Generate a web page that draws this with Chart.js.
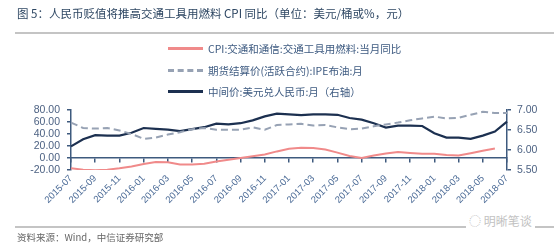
<!DOCTYPE html>
<html>
<head>
<meta charset="utf-8">
<script src="https://cdn.jsdelivr.net/npm/chart.js@4/dist/chart.umd.min.js"></script>
<style>
  html, body { margin: 0; padding: 0; background: #fff; }
  #wrap { position: relative; width: 554px; height: 246px; overflow: hidden; font-family: "Noto Sans CJK SC", "Liberation Sans", sans-serif; }
  #chart { position: absolute; left: 0; top: 0; }
  .title { position: absolute; left: 17px; top: 5px; font-size: 11.5px; color: #2e4763; white-space: nowrap; }
  .rule { position: absolute; left: 15px; right: 0; height: 2px; background: #c4c4c4; }
  .legend { position: absolute; left: 168px; top: 38px; font-size: 10.5px; color: #3d5a80; }
  .legend div { height: 21.5px; display: flex; align-items: center; white-space: nowrap; }
  .legend span.sw { display: inline-block; width: 35px; height: 0; margin-right: 5px; }
  .source { position: absolute; left: 17px; top: 230px; font-size: 9.5px; color: #666; white-space: nowrap; }
  .mark { position: absolute; left: 466px; top: 212px; font-size: 12px; color: #c2c2c2; white-space: nowrap; background: #fff; padding: 0 3px; }
</style>
</head>
<body>
<div id="wrap">
  <canvas id="chart" width="554" height="246"></canvas>
  <div class="title">图 5：人民币贬值将推高交通工具用燃料 CPI 同比（单位：美元/桶或%，元）</div>
  <div class="rule" style="top:32px"></div>
  <div class="legend">
    <div><span class="sw" style="border-top:3px solid #f08a8a"></span>CPI:交通和通信:交通工具用燃料:当月同比</div>
    <div><span class="sw" style="border-top:3px dashed #97a2b4"></span>期货结算价(活跃合约):IPE布油:月</div>
    <div><span class="sw" style="border-top:3px solid #1c3050"></span>中间价:美元兑人民币:月（右轴）</div>
  </div>
  <div class="rule" style="top:226px"></div>
  <div class="mark">◌ 明晰笔谈</div>
  <div class="source">资料来源：Wind，中信证券研究部</div>
</div>
<script>
const months = [
  "2015-07","2015-08","2015-09","2015-10","2015-11","2015-12",
  "2016-01","2016-02","2016-03","2016-04","2016-05","2016-06",
  "2016-07","2016-08","2016-09","2016-10","2016-11","2016-12",
  "2017-01","2017-02","2017-03","2017-04","2017-05","2017-06",
  "2017-07","2017-08","2017-09","2017-10","2017-11","2017-12",
  "2018-01","2018-02","2018-03","2018-04","2018-05","2018-06","2018-07"
];

// CPI 交通工具用燃料 当月同比 (%)
const fuelCpi = [
  -17, -19.5, -20.5, -19.5, -17, -14,
  -10, -6.5, -7, -11, -11, -9.5,
  -6, -3, 0, 3, 6, 11,
  15.5, 17, 16.5, 14, 9, 3.5,
  0, 4, 7.5, 10, 8.5, 7,
  7, 5, 4, 8, 12, 16, null
];

// IPE 布油 (美元/桶)
const brent = [
  59, 50, 49, 50, 46, 40,
  32, 34, 39, 43, 48, 50,
  47, 47, 47, 51, 47, 55,
  56, 57, 54, 55, 51, 48,
  49, 53, 56, 59, 63, 66,
  69, 66, 67, 72, 77, 75, 75
];

// 美元兑人民币中间价 (右轴)
const usdCny = [
  6.09, 6.27, 6.37, 6.36, 6.36, 6.43,
  6.55, 6.53, 6.51, 6.47, 6.52, 6.57,
  6.66, 6.64, 6.67, 6.74, 6.84, 6.91,
  6.89, 6.87, 6.89, 6.89, 6.88, 6.80,
  6.76, 6.67, 6.56, 6.61, 6.61, 6.60,
  6.42, 6.31, 6.31, 6.28, 6.36, 6.46, 6.71
];

const leftTicks = [-20, 0, 20, 40, 60, 80];
const rightTicks = [5.5, 6.0, 6.5, 7.0];

const axisColor = "#3e5a7e";
const labelColor = "#4d6283";
const tickFont = { family: "Liberation Sans", size: 10.5 };

new Chart(document.getElementById("chart"), {
  type: "line",
  data: {
    labels: months,
    datasets: [
      {
        label: "CPI:交通和通信:交通工具用燃料:当月同比",
        data: fuelCpi,
        borderColor: "#f08a8a",
        borderWidth: 2,
        yAxisID: "y",
        pointRadius: 0,
        tension: 0
      },
      {
        label: "期货结算价(活跃合约):IPE布油:月",
        data: brent,
        borderColor: "#97a2b4",
        borderWidth: 2,
        borderDash: [7, 4],
        yAxisID: "y",
        pointRadius: 0,
        tension: 0
      },
      {
        label: "中间价:美元兑人民币:月（右轴）",
        data: usdCny,
        borderColor: "#1c3050",
        borderWidth: 2.2,
        yAxisID: "y1",
        pointRadius: 0,
        tension: 0
      }
    ]
  },
  options: {
    responsive: false,
    animation: false,
    layout: { padding: { top: 110, left: 0, right: 0, bottom: 0 } },
    plugins: { legend: { display: false }, tooltip: { enabled: false } },
    scales: {
      x: {
        position: "bottom",
        grid: { display: false, drawTicks: false },
        border: { display: false },
        ticks: {
          autoSkip: false,
          minRotation: 45,
          maxRotation: 45,
          padding: 3,
          color: "#4a6a96",
          font: { family: "Liberation Sans", size: 9.5 },
          callback: function (v, i) { return i % 2 === 0 ? months[i] : ""; }
        },
        afterFit: function (s) { s.height = 76; }
      },
      x2: {
        type: "category",
        position: { y: 0 },
        ticks: { display: false, autoSkip: false },
        grid: {
          drawOnChartArea: false,
          drawTicks: true,
          tickLength: 4,
          lineWidth: 1.5,
          color: function (c) { return c.index % 2 === 0 ? axisColor : "rgba(0,0,0,0)"; }
        },
        border: { display: true, color: axisColor, width: 1.5 }
      },
      y: {
        position: "left",
        min: -20,
        max: 80,
        afterBuildTicks: function (s) { s.ticks = leftTicks.map(v => ({ value: v })); },
        grid: { drawOnChartArea: false, drawTicks: true, tickLength: 4, color: axisColor, lineWidth: 1.5 },
        border: { display: true, color: axisColor, width: 1.5 },
        ticks: {
          autoSkip: false,
          padding: 7,
          color: labelColor,
          font: tickFont,
          callback: function (v) { return v.toFixed(2); }
        },
        afterFit: function (s) { s.width = 71; }
      },
      y1: {
        position: "right",
        min: 5.5,
        max: 7,
        afterBuildTicks: function (s) { s.ticks = rightTicks.map(v => ({ value: v })); },
        grid: { drawOnChartArea: false, drawTicks: true, tickLength: 4, color: axisColor, lineWidth: 1.5 },
        border: { display: true, color: axisColor, width: 1.5 },
        ticks: {
          autoSkip: false,
          padding: 6,
          color: labelColor,
          font: tickFont,
          callback: function (v) { return v.toFixed(2); }
        },
        afterFit: function (s) { s.width = 47; }
      }
    }
  }
});
</script>
</body>
</html>
